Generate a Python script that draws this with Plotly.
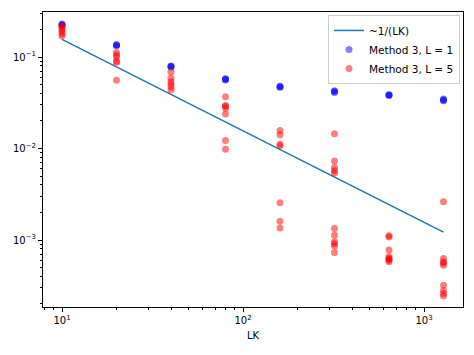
import plotly.graph_objects as go

lk_values = [10, 20, 40, 80, 160, 320, 640, 1280]
line_values = [0.156, 0.078, 0.039, 0.0195, 0.00975, 0.00488, 0.00244, 0.00122]

blue_x = [10, 10, 10, 20, 20, 20, 40, 40, 40, 80, 80, 80, 160, 160, 160, 320, 320, 320, 640, 640, 640, 1280, 1280, 1280]
blue_y = [0.229, 0.225, 0.222, 0.136, 0.135, 0.133, 0.080, 0.079, 0.078, 0.058, 0.057, 0.056,
          0.0478, 0.0473, 0.0468, 0.0429, 0.042, 0.041, 0.0388, 0.0385, 0.038, 0.0347, 0.034, 0.0333]

red_x = [10, 10, 10, 10, 10, 10,
         20, 20, 20, 20, 20, 20,
         40, 40, 40, 40, 40, 40,
         80, 80, 80, 80, 80, 80, 80,
         160, 160, 160, 160, 160, 160, 160,
         320, 320, 320, 320, 320, 320, 320, 320, 320, 320, 320,
         640, 640, 640, 640, 640, 640, 640, 640,
         1280, 1280, 1280, 1280, 1280, 1280, 1280, 1280, 1280]
red_y = [0.22, 0.21, 0.2, 0.19, 0.18, 0.17,
         0.112, 0.105, 0.1, 0.09, 0.0875, 0.0556,
         0.0686, 0.0585, 0.0537, 0.0503, 0.047, 0.0436,
         0.0368, 0.0296, 0.029, 0.0275, 0.0238, 0.0122, 0.0098,
         0.0157, 0.0141, 0.0111, 0.0107, 0.00256, 0.0016, 0.00135,
         0.0145, 0.0073, 0.0062, 0.0057, 0.0054, 0.00134, 0.00113, 0.00096, 0.00091, 0.00086, 0.00073,
         0.00111, 0.00108, 0.00078, 0.00066, 0.00063, 0.0006, 0.00058, 0.00062,
         0.00262, 0.00063, 0.00058, 0.00056, 0.00053, 0.00032, 0.00028, 0.00026, 0.000245]

x_tickvals = [10, 100, 1000]
x_ticktext = ["10<sup>1</sup>", "10<sup>2</sup>", "10<sup>3</sup>"]
y_tickvals = [0.001, 0.01, 0.1]
y_ticktext = ["10<sup>\u22123</sup>", "10<sup>\u22122</sup>", "10<sup>\u22121</sup>"]

x_minor = [m * 10 ** e for e in range(0, 4) for m in range(2, 10)]
y_minor = [m * 10.0 ** e for e in range(-4, 0) for m in range(2, 10)]

fig = go.Figure()
fig.add_trace(go.Scatter(x=lk_values, y=line_values, mode="lines",
                         line=dict(color="#1f77b4", width=1.5), name="~1/(LK)"))
fig.add_trace(go.Scatter(x=blue_x, y=blue_y, mode="markers",
                         marker=dict(color="rgba(0,0,255,0.5)", size=7, line=dict(width=0)),
                         name="Method 3, L = 1"))
fig.add_trace(go.Scatter(x=red_x, y=red_y, mode="markers",
                         marker=dict(color="rgba(255,0,0,0.5)", size=7, line=dict(width=0)),
                         name="Method 3, L = 5"))

axis_common = dict(showgrid=False, zeroline=False, showline=True, linecolor="black",
                   linewidth=1, mirror=True, ticks="outside", ticklen=4, tickcolor="black",
                   tickfont=dict(size=10, color="black"), automargin=False)

fig.update_xaxes(type="log", range=[0.895, 3.215], tickvals=x_tickvals, ticktext=x_ticktext,
                 minor=dict(ticks="outside", ticklen=2, tickcolor="black", tickvals=x_minor),
                 title=dict(text="LK", font=dict(size=10, color="black"), standoff=6),
                 **axis_common)
fig.update_yaxes(type="log", range=[-3.732, -0.508], tickvals=y_tickvals, ticktext=y_ticktext,
                 minor=dict(ticks="outside", ticklen=2, tickcolor="black", tickvals=y_minor),
                 **axis_common)

fig.update_layout(
    width=474, height=355,
    margin=dict(l=43, r=11, t=12, b=48),
    plot_bgcolor="white", paper_bgcolor="white",
    font=dict(family="DejaVu Sans", size=10, color="black"),
    legend=dict(x=0.993, y=0.99, xanchor="right", yanchor="top",
                bgcolor="rgba(255,255,255,0.8)", bordercolor="#cccccc", borderwidth=1,
                font=dict(size=10.5), itemwidth=30, tracegroupgap=0),
    showlegend=True,
)

fig.write_html("out.html", config={"displayModeBar": False},
               post_script="document.body.style.margin='0';document.body.style.overflow='hidden';")
